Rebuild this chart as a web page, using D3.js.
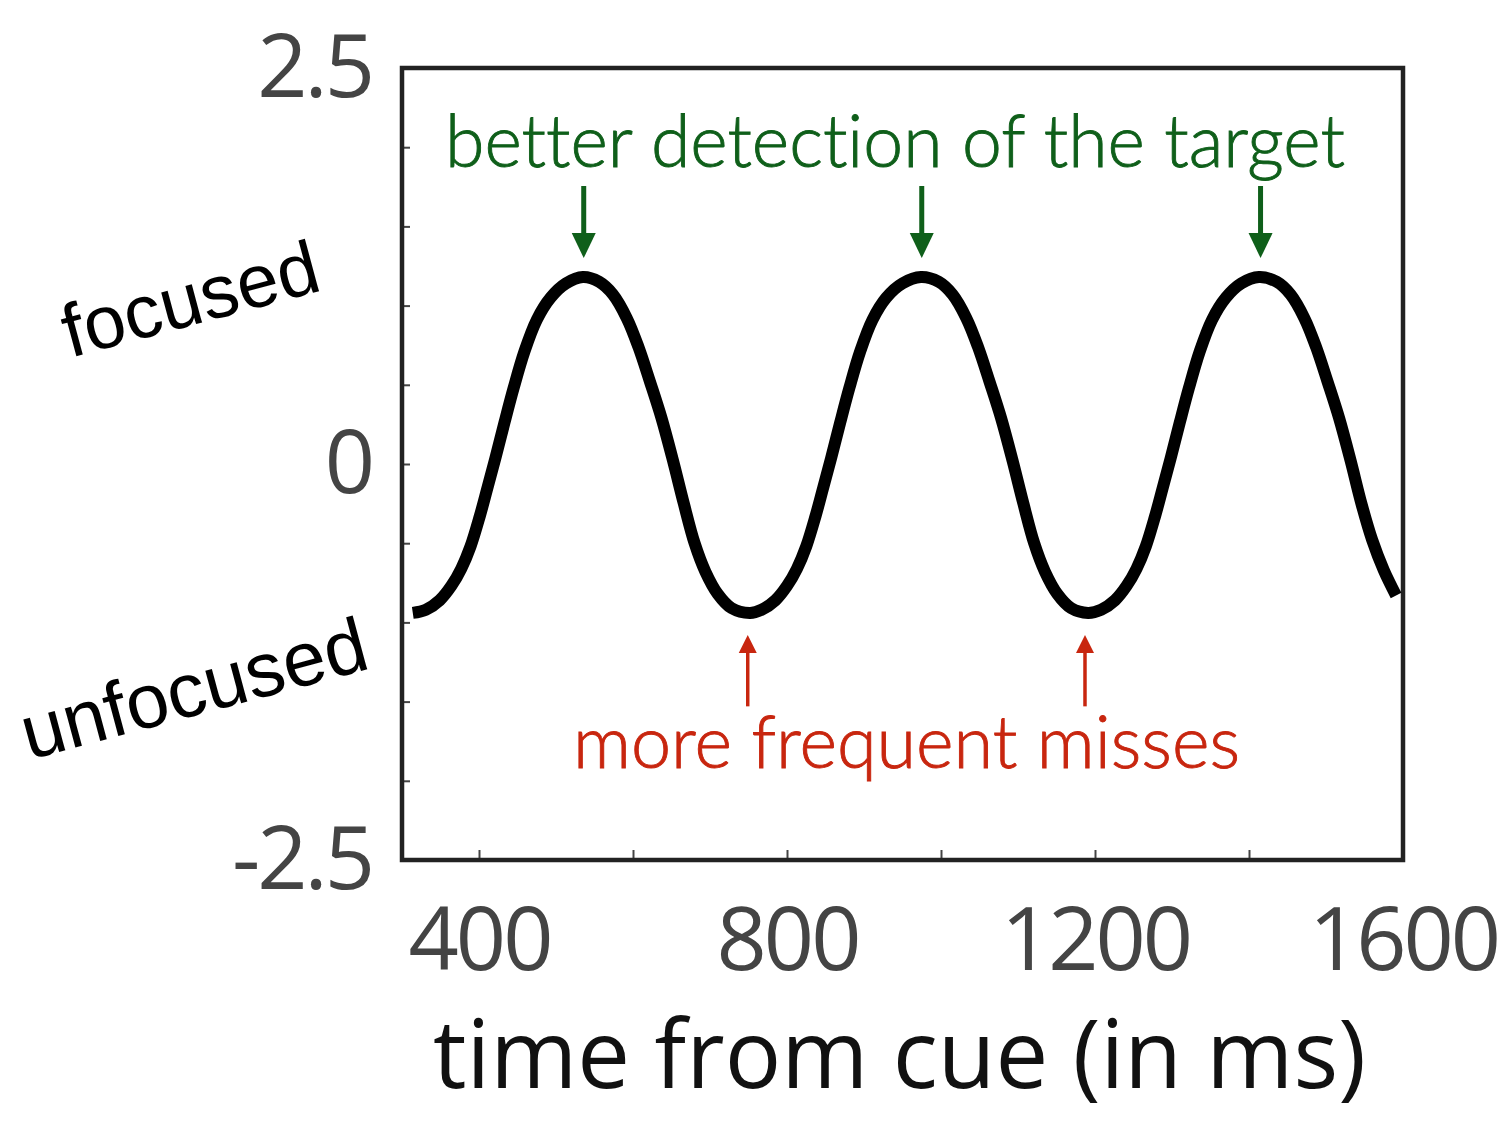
<!DOCTYPE html>
<html>
<head>
<meta charset="utf-8">
<script src="https://cdn.jsdelivr.net/npm/d3@7"></script>
<style>
  body { margin: 0; background: #fff; }
  text { font-variant-ligatures: none; }
  .tickLabel text { font-family: "Open Sans", sans-serif; fill: #444; }
</style>
</head>
<body>
<script>
//attention oscillation after the cue
var timeMs = [314, 331, 349, 364, 377, 389, 401, 411, 422, 433, 445, 459, 475, 493, 513, 535,
  556, 574, 592, 607, 622, 637, 652, 666, 680, 694, 710, 728, 752,
  767, 785, 800, 813, 825, 837, 847, 858, 869, 881, 895, 911, 929, 950, 974,
  997, 1015, 1033, 1048, 1063, 1078, 1093, 1107, 1121, 1135, 1151, 1169, 1191,
  1208, 1226, 1241, 1254, 1266, 1278, 1288, 1299, 1310, 1322, 1336, 1352, 1370, 1390, 1413,
  1436, 1454, 1472, 1487, 1502, 1517, 1532, 1546, 1560, 1575, 1591];
var attention = [-0.94, -0.92, -0.86, -0.77, -0.66, -0.52, -0.33, -0.15, 0.05, 0.26, 0.48, 0.71, 0.91, 1.05, 1.14, 1.18,
  1.15, 1.07, 0.92, 0.74, 0.52, 0.29, 0.02, -0.25, -0.50, -0.68, -0.82, -0.91, -0.94,
  -0.92, -0.86, -0.77, -0.66, -0.52, -0.33, -0.15, 0.05, 0.26, 0.48, 0.71, 0.91, 1.05, 1.14, 1.18,
  1.15, 1.07, 0.92, 0.74, 0.52, 0.29, 0.02, -0.25, -0.50, -0.68, -0.82, -0.91, -0.94,
  -0.92, -0.86, -0.77, -0.66, -0.52, -0.33, -0.15, 0.05, 0.26, 0.48, 0.71, 0.91, 1.05, 1.14, 1.18,
  1.15, 1.07, 0.92, 0.74, 0.52, 0.29, 0.02, -0.25, -0.48, -0.67, -0.83];

//ticks
var xTicks = [400, 600, 800, 1000, 1200, 1400, 1600];
var xLabels = [400, 800, 1200, 1600];
var yTicks = [-2.5, -2, -1.5, -1, -0.5, 0, 0.5, 1, 1.5, 2, 2.5];
var yLabels = [2.5, 0, -2.5];

//annotations
var peakTimes = [536, 975, 1415];
var troughTimes = [749, 1187];
var peakNote = "better detection of the target";
var troughNote = "more frequent misses";

window.onload = function(){
  var w = 1500, h = 1122;
  var left = 402, right = 1403, top = 68, bottom = 860;

  var svg = d3.select("body")
    .append("svg")
    .attr("width", w)
    .attr("height", h);

  var x = d3.scaleLinear()
    .domain([300, 1600])
    .range([left, right]);

  var y = d3.scaleLinear()
    .domain([-2.5, 2.5])
    .range([bottom, top]);

  //left axis, ticks pointing inward
  var yAxis = d3.axisLeft(y)
    .tickValues(yTicks)
    .tickSize(-8)
    .tickSizeOuter(0)
    .tickPadding(30)
    .tickFormat(function(d){
      return yLabels.indexOf(d) >= 0 ? String(d) : "";
    });

  var gy = svg.append("g")
    .attr("class", "tickLabel")
    .attr("transform", "translate(" + left + ",0)")
    .call(yAxis);
  gy.select(".domain").remove();
  gy.selectAll("line").attr("stroke", "#444").attr("stroke-width", 2);
  gy.selectAll("text").style("font-size", "88px").attr("letter-spacing", "-3");

  //bottom axis
  var xAxis = d3.axisBottom(x)
    .tickValues(xTicks)
    .tickSize(-10)
    .tickSizeOuter(0)
    .tickPadding(48)
    .tickFormat(function(d){
      return xLabels.indexOf(d) >= 0 ? String(d) : "";
    });

  var gx = svg.append("g")
    .attr("class", "tickLabel")
    .attr("transform", "translate(0," + bottom + ")")
    .call(xAxis);
  gx.select(".domain").remove();
  gx.selectAll("line").attr("stroke", "#444").attr("stroke-width", 2);
  gx.selectAll("text").style("font-size", "88px").attr("letter-spacing", "-3");

  //frame
  svg.append("rect")
    .attr("x", left)
    .attr("y", top)
    .attr("width", right - left)
    .attr("height", bottom - top)
    .attr("fill", "none")
    .attr("stroke", "#222")
    .attr("stroke-width", 4.5);

  //the curve
  var points = timeMs.map(function(t, i){ return [t, attention[i]]; });
  var line = d3.line()
    .x(function(d){ return x(d[0]); })
    .y(function(d){ return y(d[1]); })
    .curve(d3.curveCatmullRom.alpha(0.5));

  svg.append("path")
    .datum(points)
    .attr("d", line)
    .attr("fill", "none")
    .attr("stroke", "#000")
    .attr("stroke-width", 12)
    .attr("stroke-linejoin", "round");

  //green arrows down onto peaks
  var green = "#0f5f1a";
  var peaks = svg.selectAll(".peakArrow")
    .data(peakTimes)
    .enter()
    .append("g")
    .attr("class", "peakArrow");
  peaks.append("line")
    .attr("x1", function(d){ return x(d); })
    .attr("x2", function(d){ return x(d); })
    .attr("y1", y(1.755))
    .attr("y2", y(1.42))
    .attr("stroke", green)
    .attr("stroke-width", 5);
  peaks.append("path")
    .attr("d", function(d){
      var cx = x(d), tip = y(1.30);
      return "M" + (cx - 12) + "," + (tip - 25) + "L" + (cx + 12) + "," + (tip - 25) + "L" + cx + "," + tip + "Z";
    })
    .attr("fill", green);

  svg.append("text")
    .attr("x", 445)
    .attr("y", 167)
    .attr("textLength", 900)
    .attr("lengthAdjust", "spacingAndGlyphs")
    .style("font-family", "Lato, sans-serif")
    .style("font-weight", 300)
    .style("font-size", "72px")
    .style("fill", green)
    .style("stroke", green)
    .style("stroke-width", 0.9)
    .text(peakNote);

  //red arrows up to troughs
  var red = "#c8260f";
  var troughs = svg.selectAll(".troughArrow")
    .data(troughTimes)
    .enter()
    .append("g")
    .attr("class", "troughArrow");
  troughs.append("line")
    .attr("x1", function(d){ return x(d); })
    .attr("x2", function(d){ return x(d); })
    .attr("y1", y(-1.53))
    .attr("y2", y(-1.17))
    .attr("stroke", red)
    .attr("stroke-width", 3.5);
  troughs.append("path")
    .attr("d", function(d){
      var cx = x(d), tip = y(-1.08);
      return "M" + (cx - 9) + "," + (tip + 18) + "L" + (cx + 9) + "," + (tip + 18) + "L" + cx + "," + tip + "Z";
    })
    .attr("fill", red);

  svg.append("text")
    .attr("x", 573)
    .attr("y", 768)
    .attr("textLength", 667)
    .attr("lengthAdjust", "spacingAndGlyphs")
    .style("font-family", "Lato, sans-serif")
    .style("font-weight", 300)
    .style("font-size", "72px")
    .style("fill", red)
    .style("stroke", red)
    .style("stroke-width", 0.9)
    .text(troughNote);

  //tilted state labels
  svg.append("text")
    .attr("transform", "translate(70,358) rotate(-15)")
    .style("font-family", "'Liberation Sans', Arial, sans-serif")
    .style("font-size", "75px")
    .style("fill", "#000")
    .text("focused");

  svg.append("text")
    .attr("transform", "translate(29,760) rotate(-15)")
    .style("font-family", "'Liberation Sans', Arial, sans-serif")
    .style("font-size", "77px")
    .style("fill", "#000")
    .text("unfocused");

  //x axis title
  svg.append("text")
    .attr("x", 433)
    .attr("y", 1088)
    .attr("textLength", 933)
    .attr("lengthAdjust", "spacingAndGlyphs")
    .style("font-family", "'Open Sans', sans-serif")
    .style("font-size", "96px")
    .style("fill", "#111")
    .text("time from cue (in ms)");
};
</script>
</body>
</html>
